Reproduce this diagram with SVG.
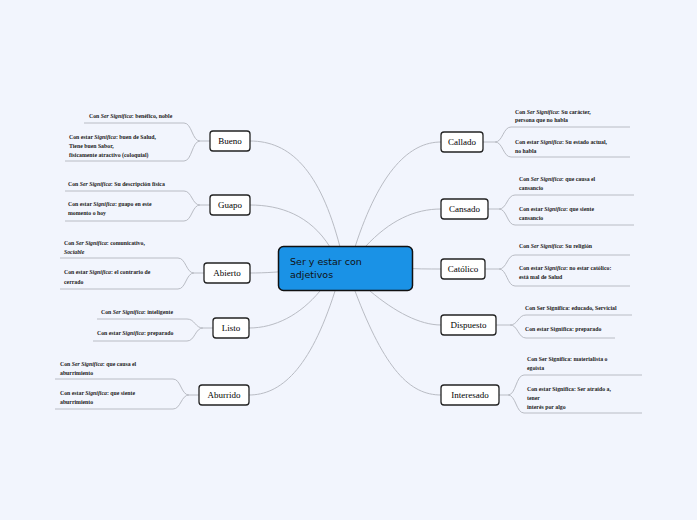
<svg xmlns="http://www.w3.org/2000/svg" width="697" height="520" viewBox="0 0 697 520">
<style>
.n rect{fill:#fff;stroke:#222;stroke-width:1.3}
.n text{font-family:"Liberation Serif",serif;font-size:9px;fill:#000;text-anchor:middle}
.s{font-family:"Liberation Serif",serif;font-size:5.8px;fill:#222;font-weight:bold}
.c path{fill:none;stroke:#b9bcc4;stroke-width:1}
</style>
<rect width="697" height="520" fill="#f2f5fd"/>
<g class="c">
<path d="M340,247 C320,170 290,141 250,141"/>
<path d="M330,247 C310,215 280,205 250,205"/>
<path d="M300,270 C280,272 265,273 250,273"/>
<path d="M320,291 C300,315 275,328 249,328"/>
<path d="M335,291 C310,370 280,395 249,395"/>
<path d="M355,247 C380,170 410,142 441,142"/>
<path d="M365,247 C390,220 415,209 441,209"/>
<path d="M400,268 C415,269 428,269 441,269"/>
<path d="M370,291 C395,312 420,325 441,325"/>
<path d="M355,291 C385,370 410,395 441,395"/>
<path d="M210,141 H200 C192,141 192,123 184,123 H84 M200,141 C192,141 192,161 184,161 H65"/>
<path d="M210,205 H200 C192,205 192,191 184,191 H65 M200,205 C192,205 192,221 184,221 H65"/>
<path d="M204,273 H194 C186,273 186,258 178,258 H60 M194,273 C186,273 186,289 178,289 H60"/>
<path d="M213,328 H203 C195,328 195,319 187,319 H97 M203,328 C195,328 195,341 187,341 H93"/>
<path d="M199,395 H189 C181,395 181,379 173,379 H55 M189,395 C181,395 181,409 173,409 H55"/>
<path d="M483,142 H495 C503,142 503,127 511,127 H630 M495,142 C503,142 503,157 511,157 H630"/>
<path d="M488,209 H499 C507,209 507,195 515,195 H634 M499,209 C507,209 507,225 515,225 H634"/>
<path d="M485,269 H499 C507,269 507,255 515,255 H630 M499,269 C507,269 507,286 515,286 H630"/>
<path d="M496,325 H510 C518,325 518,315 526,315 H632 M510,325 C518,325 518,338 526,338 H615"/>
<path d="M499,395 H508 C516,395 516,375 524,375 H642 M508,395 C516,395 516,413 524,413 H642"/>
</g>
<g id="center"><rect x="278.5" y="246.5" width="134" height="44" rx="5" fill="#1a92e6" stroke="#111" stroke-width="1.5"/>
<text x="290" y="265" font-family="DejaVu Sans,sans-serif" font-size="9.5" fill="#111">Ser y estar con</text>
<text x="290" y="278" font-family="DejaVu Sans,sans-serif" font-size="9.5" fill="#111">adjetivos</text></g>
<g id="bueno" class="n"><rect x="210" y="131" width="40" height="20" rx="3"/><text x="230" y="144">Bueno</text></g>
<g id="guapo" class="n"><rect x="210" y="195" width="40" height="20" rx="3"/><text x="230" y="208">Guapo</text></g>
<g id="abierto" class="n"><rect x="204" y="263" width="46" height="20" rx="3"/><text x="227" y="276">Abierto</text></g>
<g id="listo" class="n"><rect x="213" y="318" width="36" height="20" rx="3"/><text x="231" y="331">Listo</text></g>
<g id="aburrido" class="n"><rect x="199" y="385" width="50" height="20" rx="3"/><text x="224" y="398">Aburrido</text></g>
<g id="callado" class="n"><rect x="441" y="132" width="42" height="20" rx="3"/><text x="462" y="145">Callado</text></g>
<g id="cansado" class="n"><rect x="441" y="199" width="47" height="20" rx="3"/><text x="464.5" y="212">Cansado</text></g>
<g id="catolico" class="n"><rect x="441" y="259" width="44" height="20" rx="3"/><text x="463" y="272">Católico</text></g>
<g id="dispuesto" class="n"><rect x="441" y="315" width="55" height="20" rx="3"/><text x="468.5" y="328">Dispuesto</text></g>
<g id="interesado" class="n"><rect x="441" y="385" width="58" height="20" rx="3"/><text x="470" y="398">Interesado</text></g>
<g id="subtexts" class="s">
<text x="89" y="118">Con <tspan font-style="italic">Ser Significa</tspan>: benéfico, noble</text>
<text x="69" y="139">Con estar <tspan font-style="italic">Significa</tspan>: buen de Salud,</text>
<text x="69" y="148">Tiene buen Sabor,</text>
<text x="69" y="157">fisicamente atractivo (coloquial)</text>
<text x="68" y="186">Con <tspan font-style="italic">Ser Significa</tspan>: Su descripción física</text>
<text x="68" y="206">Con estar <tspan font-style="italic">Significa</tspan>: guapo en este</text>
<text x="68" y="215">momento o hoy</text>
<text x="64" y="245">Con <tspan font-style="italic">Ser Significa</tspan>: comunicativo,</text>
<text x="64" y="254"><tspan font-style="italic">Sociable</tspan></text>
<text x="64" y="274">Con estar <tspan font-style="italic">Significa</tspan>: el contrario de</text>
<text x="64" y="284">cerrado</text>
<text x="101" y="314">Con <tspan font-style="italic">Ser Significa</tspan>: inteligente</text>
<text x="97" y="335">Con estar <tspan font-style="italic">Significa</tspan>: preparado</text>
<text x="60" y="366">Con <tspan font-style="italic">Ser Significa</tspan>: que causa el</text>
<text x="60" y="375">aburrimiento</text>
<text x="60" y="395">Con estar <tspan font-style="italic">Significa</tspan>: que siente</text>
<text x="60" y="404">aburrimiento</text>
<text x="515" y="114">Con <tspan font-style="italic">Ser Significa</tspan>: Su carácter,</text>
<text x="515" y="122">persona que no habla</text>
<text x="515" y="144">Con estar <tspan font-style="italic">Significa</tspan>: Su estado actual,</text>
<text x="515" y="153">no habla</text>
<text x="519" y="181">Con <tspan font-style="italic">Ser Significa</tspan>: que causa el</text>
<text x="519" y="190">cansancio</text>
<text x="519" y="211">Con estar <tspan font-style="italic">Significa</tspan>: que siente</text>
<text x="519" y="220">cansancio</text>
<text x="519" y="248">Con <tspan font-style="italic">Ser Significa</tspan>: Su religión</text>
<text x="519" y="270">Con estar <tspan font-style="italic">Significa</tspan>: no estar católico:</text>
<text x="519" y="279">está mal de Salud</text>
<text x="525" y="310">Con Ser Significa: educado, Servicial</text>
<text x="525" y="331">Con estar Significa: preparado</text>
<text x="527" y="361">Con Ser Significa: materialista o</text>
<text x="527" y="370">egoísta</text>
<text x="527" y="391">Con estar Significa: Ser atraído a,</text>
<text x="527" y="400">tener</text>
<text x="527" y="409">interés por algo</text>
</g>
</svg>
